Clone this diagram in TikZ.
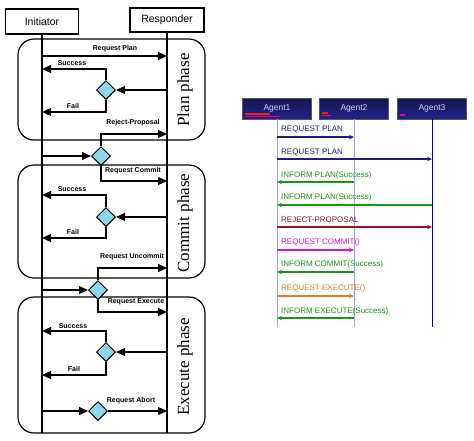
\documentclass[tikz,border=0pt]{standalone}
\usepackage{fontspec}
\setmainfont{Liberation Sans}
\newfontfamily\phasefont{Liberation Serif}
\usetikzlibrary{shapes.geometric, arrows.meta}
\definecolor{navyline}{RGB}{30,30,120}
\definecolor{okgreen}{RGB}{25,150,25}
\definecolor{rejectred}{RGB}{150,20,30}
\definecolor{commitpink}{RGB}{210,20,210}
\definecolor{execorange}{RGB}{225,125,35}
\definecolor{lavender}{RGB}{165,165,230}
\definecolor{agenttop}{RGB}{20,20,80}
\definecolor{agentbot}{RGB}{35,35,140}
\definecolor{choicefill}{RGB}{140,215,235}
\tikzstyle{party} = [rectangle, draw=black, line width=1.2pt, minimum width=73pt, minimum height=25pt, font=\fontsize{10.5}{12}\selectfont]
\tikzstyle{phase} = [draw=black, line width=1.2pt, rounded corners=16pt]
\tikzstyle{phasename} = [rotate=90, font=\phasefont\fontsize{17}{19}\selectfont]
\tikzstyle{choice} = [diamond, draw=black, line width=1pt, fill=choicefill, minimum width=19pt, minimum height=19pt, inner sep=0pt]
\tikzstyle{msg} = [font=\bfseries\fontsize{7}{8}\selectfont, inner sep=1pt]
\tikzstyle{arrow} = [line width=1.2pt, -{Triangle[length=9pt,width=8pt]}]
\tikzstyle{lifeline} = [line width=1.2pt]
\tikzstyle{agent} = [rectangle, draw=gray!70!black, top color=agenttop, bottom color=agentbot, minimum width=69pt, minimum height=21pt, text=white!80!blue, font=\fontsize{8.5}{10}\selectfont]
\tikzstyle{agentline} = [line width=1pt]
\tikzstyle{act} = [line width=1.1pt, -{Stealth[length=5pt,width=4.5pt]}]
\tikzstyle{actlabel} = [anchor=west, inner sep=0pt, font=\fontsize{8}{9}\selectfont]

\begin{document}
\begin{tikzpicture}[x=1pt, y=-1pt]
\useasboundingbox (0,0) rectangle (474,440);
% phases
\draw [phase] (18,39) rectangle (205,140);
\draw [phase] (18,165) rectangle (205,278);
\draw [phase] (18,297) rectangle (205,433);
\node [phasename] (planname) at (185,90) {Plan phase};
\node [phasename] (commitname) at (185,223) {Commit phase};
\node [phasename] (execname) at (185,367) {Execute phase};

% parties and lifelines
\node (init) [party] at (42,21.5) {Initiator};
\node (resp) [party, minimum width=74pt, minimum height=24pt] at (167,20) {Responder};
\coordinate (initend) at (42,433);
\coordinate (respend) at (167,433);
\draw [lifeline] (init) -- (initend);
\draw [lifeline] (resp) -- (respend);

% decisions
\node (d1) [choice] at (106,90) {};
\node (d2) [choice] at (101,156) {};
\node (d3) [choice] at (106,217) {};
\node (d4) [choice] at (98,290) {};
\node (d5) [choice] at (106,352) {};
\node (d6) [choice] at (98,411) {};

% rows
\coordinate (yplan) at (0,56);
\coordinate (ysucc1) at (0,69);
\coordinate (yfail1) at (0,112);
\coordinate (yrej) at (0,134);
\coordinate (ycommit) at (0,181);
\coordinate (ysucc2) at (0,195);
\coordinate (yfail2) at (0,238);
\coordinate (yuncommit) at (0,268);
\coordinate (yexec) at (0,312);
\coordinate (ysucc3) at (0,331);
\coordinate (yfail3) at (0,375);

% plan phase
\draw [arrow] (init |- yplan) -- (resp |- yplan);
\node [msg] (lplan) at (115,49) {Request Plan};
\draw [arrow] (resp |- d1) -- (d1.east);
\draw [arrow] (d1.north) |- (init |- ysucc1);
\node [msg] (lsucc1) at (72,63) {Success};
\draw [arrow] (d1.south) |- (init |- yfail1);
\node [msg] (lfail1) at (73,106) {Fail};
\draw [arrow] (init |- d2) -- (d2.west);
\draw [arrow] (d2.north) |- (resp |- yrej);
\node [msg] (lrej) at (133,123) {Reject-Proposal};

% commit phase
\draw [arrow] (d2.south) |- (resp |- ycommit);
\node [msg] (lcommit) at (133,171) {Request Commit};
\draw [arrow] (resp |- d3) -- (d3.east);
\draw [arrow] (d3.north) |- (init |- ysucc2);
\node [msg] (lsucc2) at (72,189) {Success};
\draw [arrow] (d3.south) |- (init |- yfail2);
\node [msg] (lfail2) at (73,232) {Fail};
\draw [arrow] (init |- d4) -- (d4.west);
\draw [arrow] (d4.north) |- (resp |- yuncommit);
\node [msg] (luncommit) at (132,257) {Request Uncommit};

% execute phase
\draw [arrow] (d4.south) |- (resp |- yexec);
\node [msg] (lexec) at (136,302) {Request Execute};
\draw [arrow] (resp |- d5) -- (d5.east);
\draw [arrow] (d5.north) |- (init |- ysucc3);
\node [msg] (lsucc3) at (73,326) {Success};
\draw [arrow] (d5.south) |- (init |- yfail3);
\node [msg] (lfail3) at (74,369) {Fail};
\draw [arrow] (init |- d6) -- (d6.west);
\draw [arrow] (d6.east) -- (resp |- d6);
\node [msg] (labort) at (131,401) {Request Abort};

% agents
\node (ag1) [agent] at (277,108.5) {Agent1};
\node (ag2) [agent] at (354,108.5) {Agent2};
\node (ag3) [agent] at (432,108.5) {Agent3};
\draw [line width=1.3pt, red!80!orange] (245,114) -- (270,114);
\draw [line width=1.3pt, magenta] (245,116.5) -- (280,116.5);
\draw [line width=1.2pt, red!80!orange] (322,113) -- (328,113);
\draw [line width=1.2pt, magenta] (322,115.5) -- (331,115.5);
\draw [line width=1.2pt, magenta] (400,115) -- (405,115);
\coordinate (ag1end) at (277,327);
\coordinate (ag2end) at (354,327);
\coordinate (ag3end) at (432,327);
\draw [agentline, lavender] (ag1) -- (ag1end);
\draw [agentline, lavender] (ag2) -- (ag2end);
\draw [agentline, blue!70!black] (ag3) -- (ag3end);

% messages
\coordinate (m1) at (0,137);
\coordinate (m2) at (0,159);
\coordinate (m3) at (0,182);
\coordinate (m4) at (0,205);
\coordinate (m5) at (0,227);
\coordinate (m6) at (0,250);
\coordinate (m7) at (0,272);
\coordinate (m8) at (0,296);
\coordinate (m9) at (0,318);
\draw [act, navyline] (ag1 |- m1) -- (ag2 |- m1);
\node [actlabel, navyline] (t1) at (281,129) {REQUEST PLAN};
\draw [act, navyline] (ag1 |- m2) -- (ag3 |- m2);
\node [actlabel, navyline] (t2) at (281,152) {REQUEST PLAN};
\draw [act, okgreen] (ag2 |- m3) -- (ag1 |- m3);
\node [actlabel, okgreen] (t3) at (281,175) {INFORM PLAN(Success)};
\draw [act, okgreen] (ag3 |- m4) -- (ag1 |- m4);
\node [actlabel, okgreen] (t4) at (281,197) {INFORM PLAN(Success)};
\draw [act, rejectred] (ag1 |- m5) -- (ag3 |- m5);
\node [actlabel, rejectred] (t5) at (281,220) {REJECT-PROPOSAL};
\draw [act, commitpink] (ag1 |- m6) -- (ag2 |- m6);
\node [actlabel, commitpink] (t6) at (281,242) {REQUEST COMMIT()};
\draw [act, okgreen] (ag2 |- m7) -- (ag1 |- m7);
\node [actlabel, okgreen] (t7) at (281,264) {INFORM COMMIT(Success)};
\draw [act, execorange] (ag1 |- m8) -- (ag2 |- m8);
\node [actlabel, execorange] (t8) at (281,288) {REQUEST EXECUTE()};
\draw [act, okgreen] (ag2 |- m9) -- (ag1 |- m9);
\node [actlabel, okgreen] (t9) at (281,311) {INFORM EXECUTE(Success)};
\end{tikzpicture}
\end{document}
